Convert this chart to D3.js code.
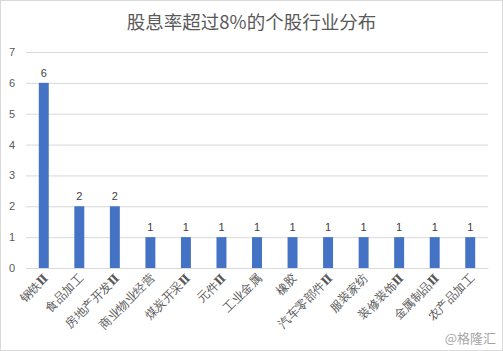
<!DOCTYPE html>
<html>
<head>
<meta charset="utf-8">
<script src="https://cdn.jsdelivr.net/npm/d3@7"></script>
<style>
    body { margin: 0; background: #fff; }
    svg { display: block; font-family: "Noto Sans CJK SC", "Microsoft YaHei", sans-serif; }
    .grid line { stroke: #d9d9d9; }
    .grid path { display: none; }
    .y.axis path, .y.axis line { display: none; }
    .x.axis path { stroke: #d9d9d9; }
    .x.axis line { display: none; }
    .bar { fill: #4472c4; }
</style>
</head>
<body>
<div id="chart"></div>
<script>
var categories = ["钢铁Ⅱ", "食品加工", "房地产开发Ⅱ", "商业物业经营", "煤炭开采Ⅱ", "元件Ⅱ",
    "工业金属", "橡胶", "汽车零部件Ⅱ", "服装家纺", "装修装饰Ⅱ", "金属制品Ⅱ", "农产品加工"];
var counts = [6, 2, 2, 1, 1, 1, 1, 1, 1, 1, 1, 1, 1];
var yTicks = [0, 1, 2, 3, 4, 5, 6, 7];
var title = "股息率超过8%的个股行业分布";
var watermark = "@格隆汇";

(function () {
    var W = 503, H = 351,
        margin = { top: 52, right: 15, bottom: 83, left: 26 },
        width = W - margin.left - margin.right,
        height = H - margin.top - margin.bottom,
        svg, g, x, y, labels;

    svg = d3.select("#chart").append("svg")
        .attr("width", W)
        .attr("height", H);

    svg.append("rect")
        .attr("x", 0.5).attr("y", 0.5)
        .attr("width", W - 1).attr("height", H - 1)
        .attr("fill", "#fff")
        .attr("stroke", "#d9d9d9");

    svg.append("text")
        .attr("x", W / 2)
        .attr("y", 29)
        .attr("text-anchor", "middle")
        .attr("fill", "#595959")
        .style("font-size", "18.5px")
        .text(title);

    g = svg.append("g")
        .attr("transform", "translate(" + margin.left + "," + margin.top + ")");

    x = d3.scaleBand().domain(categories).range([0, width])
        .paddingInner(0.72).paddingOuter(0.36);
    y = d3.scaleLinear().domain([0, 7]).range([height, 0]);

    g.append("g").attr("class", "grid")
        .call(d3.axisLeft(y).tickValues(yTicks).tickSize(-width).tickFormat(""));

    g.append("g").attr("class", "y axis")
        .attr("transform", "translate(-11,0)")
        .call(d3.axisLeft(y).tickValues(yTicks).tickFormat(d3.format("d"))
            .tickSize(0).tickPadding(0))
        .selectAll("text")
        .attr("fill", "#595959")
        .style("font-size", "11px")
        .style("font-family", "'Liberation Sans', sans-serif");

    g.selectAll(".bar")
        .data(counts).enter().append("rect")
        .attr("class", "bar")
        .attr("x", function (d, i) { return x(categories[i]); })
        .attr("y", function (d) { return y(d); })
        .attr("width", x.bandwidth())
        .attr("height", function (d) { return height - y(d); });

    g.selectAll(".value")
        .data(counts).enter().append("text")
        .attr("class", "value")
        .attr("x", function (d, i) { return x(categories[i]) + x.bandwidth() / 2; })
        .attr("y", function (d) { return y(d) - 6; })
        .attr("text-anchor", "middle")
        .attr("fill", "#404040")
        .style("font-size", "11px")
        .style("font-family", "'Liberation Sans', sans-serif")
        .text(function (d) { return d; });

    labels = g.append("g").attr("class", "x axis")
        .attr("transform", "translate(0," + height + ")")
        .call(d3.axisBottom(x).tickSize(0).tickSizeOuter(0).tickPadding(0))
        .selectAll("text")
        .attr("text-anchor", "end")
        .attr("dy", 0)
        .attr("fill", "#595959")
        .style("font-size", "12px")
        .attr("transform", "translate(5,11) rotate(-45)");

    // roman numeral drawn in a bold serif face, as in the original
    labels.text(null).each(function (d) {
        var t = d3.select(this),
            parts = d.split("Ⅱ");
        t.append("tspan").text(parts[0]);
        if (parts.length > 1) {
            t.append("tspan")
                .style("font-family", "'DejaVu Serif', serif")
                .style("font-weight", "bold")
                .style("font-size", "12px")
                .text("Ⅱ");
        }
    });

    svg.append("text")
        .attr("x", 496)
        .attr("y", 343)
        .attr("text-anchor", "end")
        .attr("fill", "#a6a6a6")
        .style("font-size", "13px")
        .text(watermark);
}());
</script>
</body>
</html>
